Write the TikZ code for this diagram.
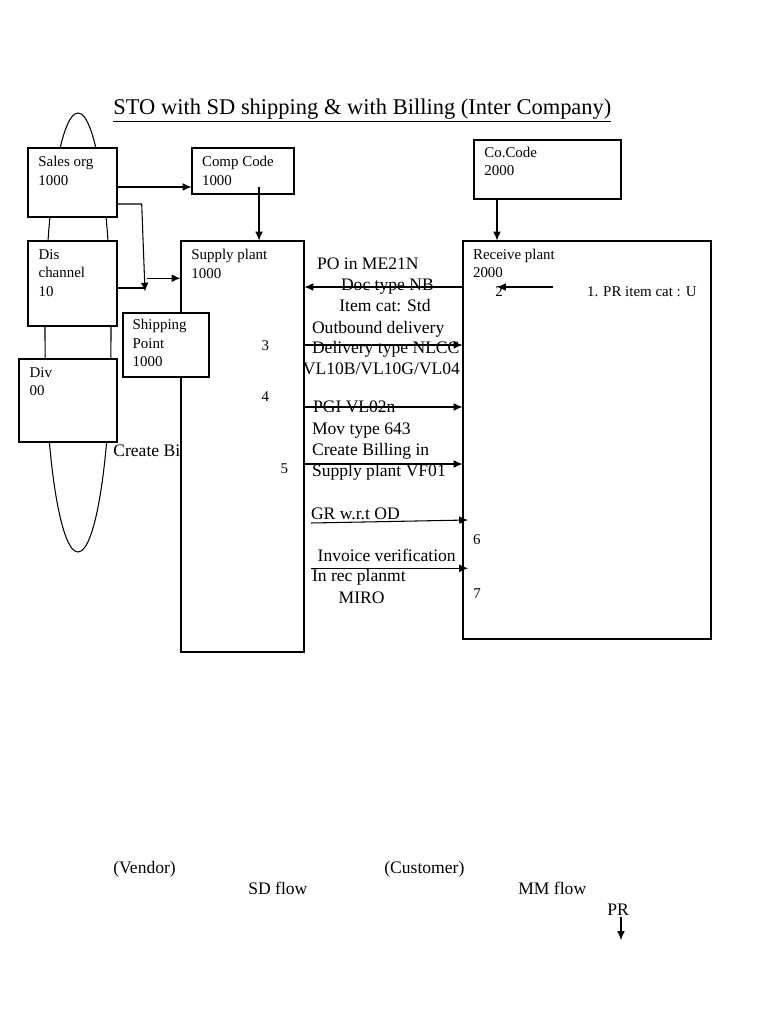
\documentclass[tikz,border=0pt]{standalone}
\usepackage{fontspec}
\setmainfont{Liberation Serif}
\usetikzlibrary{arrows.meta,fit}

\tikzset{
  box/.style={draw, fill=white, line width=0.6pt, inner sep=0pt},
  small/.style={font=\fontsize{8.5}{10.5}\selectfont, inner sep=0pt, anchor=base west, align=left},
  big/.style={font=\fontsize{10}{12}\selectfont, inner sep=0pt, anchor=base west},
  flow/.style={->, line width=0.6pt}
}

\begin{document}
\begin{tikzpicture}[x=0.02cm, y=-0.02cm, >={Latex[length=5pt,width=4.4pt]}]
  \useasboundingbox (0,0) rectangle (768,1024) ;

  \node[font=\fontsize{12.8}{15}\selectfont, inner sep=0pt, anchor=base west] (title) at (113,114) {\underline{STO with SD shipping \& with Billing (Inter Company)}} ;

  \draw[line width=0.6pt] (78,332.5) ellipse [x radius=33, y radius=219.5] ;
  \node[big] (createbi) at (113,456.5) {Create Bi} ;

  \node[box, fit={(28,148) (117,217)}] (salesorg) {} ;
  \node[box, fit={(28,241) (117,326)}] (dischannel) {} ;
  \node[box, fit={(19,359) (117,442)}] (div) {} ;
  \node[box, fit={(192,148) (294,194)}] (compcode) {} ;
  \node[box, fit={(181,241) (304,652)}] (supply) {} ;
  \node[box, fit={(123,313) (209,377)}] (shipping) {} ;
  \node[box, fit={(474,140) (621,199)}] (cocode) {} ;
  \node[box, fit={(463,241) (711,639)}] (recv) {} ;

  \node[small] (salesorgtxt) at (38,185) {Sales org\\1000} ;
  \node[small] (compcodetxt) at (201.7,185) {Comp Code\\1000} ;
  \node[small] (dischanneltxt) at (38.3,296) {Dis\\channel\\10} ;
  \node[small] (supplytxt) at (191,278.3) {Supply plant\\1000} ;
  \node[small] (shippingtxt) at (132.3,366.7) {Shipping\\Point\\1000} ;
  \node[small] (divtxt) at (29.3,395.7) {Div\\00} ;
  \node[small] (cocodetxt) at (484,175.7) {Co.Code\\2000} ;
  \node[small] (recvtxt) at (472.7,277.7) {Receive plant\\2000} ;

  \node[small] (two) at (495,296.7) {2} ;
  \node[small] (pritem) at (586.7,296.7) {1. PR item cat : U} ;
  \node[small] (three) at (261.3,350) {3} ;
  \node[small] (four) at (261.3,401.7) {4} ;
  \node[small] (five) at (280.3,473.3) {5} ;
  \node[small] (six) at (472.7,544.3) {6} ;
  \node[small] (seven) at (473,598.3) {7} ;

  \node[big] (po) at (316.7,269.3) {PO in ME21N} ;
  \node[big] (doctype) at (340.7,290.7) {Doc type NB} ;
  \node[big] (itemcat) at (339,311) {Item cat: Std} ;
  \node[big] (outbound) at (311.7,333.3) {Outbound delivery} ;
  \node[big] (deltype) at (311.7,353.3) {Delivery type NLCC} ;
  \node[big] (vl) at (302.5,374) {VL10B/VL10G/VL04} ;
  \node[big] (pgi) at (312.7,412.7) {PGI VL02n} ;
  \node[big] (movtype) at (311.7,434) {Mov type 643} ;
  \node[big] (billing) at (311.7,455) {Create Billing in} ;
  \node[big] (vf) at (311.7,476) {Supply plant VF01} ;
  \node[big] (gr) at (310.7,519) {GR w.r.t OD} ;
  \node[big] (invoice) at (317.3,561.7) {Invoice verification} ;
  \node[big] (inrec) at (311.7,581.7) {In rec planmt} ;
  \node[big] (miro) at (338.3,603.3) {MIRO} ;

  \node[big] (vendor) at (113,873) {(Vendor)} ;
  \node[big] (sdflow) at (248,894) {SD flow} ;
  \node[big] (customer) at (384,873) {(Customer)} ;
  \node[big] (mmflow) at (518,894) {MM flow} ;
  \node[big] (pr) at (607,915) {PR} ;

  \coordinate (salesbend) at (141.7,204) ;
  \coordinate (salesdown) at (145,291.5) ;
  \coordinate (dischend) at (144,288) ;
  \coordinate (supplyin) at (146.7,278.3) ;
  \coordinate (compstart) at (259,187) ;
  \coordinate (recvstart) at (553,287) ;
  \coordinate (recvend) at (497,287) ;
  \coordinate (grstart) at (311,523) ;
  \coordinate (grend) at (468,520) ;
  \coordinate (invstart) at (311,568.3) ;
  \coordinate (invend) at (468,568.3) ;

  \draw[flow] (salesorg.east |- 0,187) -- (compcode.west |- 0,187) ;
  \draw[flow] (salesorg.east |- 0,204) -- (salesbend) -- (salesdown) ;
  \draw[line width=0.6pt] (dischannel.east |- 0,288) -- (dischend) ;
  \draw[flow] (supplyin) -- (supply.west |- supplyin) ;
  \draw[flow] (compstart) -- (supply.north -| compstart) ;
  \draw[flow] (cocode.south -| recvend) -- (recv.north -| recvend) ;
  \draw[flow] (recvstart) -- (recvend) ;

  \draw[flow] (recv.west |- 0,287) -- (supply.east |- 0,287) ;
  \draw[flow] (supply.east |- 0,345) -- (recv.west |- 0,345) ;
  \draw[flow] (supply.east |- 0,407) -- (recv.west |- 0,407) ;
  \draw[flow] (supply.east |- 0,464) -- (recv.west |- 0,464) ;
  \draw[flow] (grstart) -- (grend) ;
  \draw[flow] (invstart) -- (invend) ;

  \draw[flow] (pr.south -| 621,0) ++(0,2) -- (621,940) ;
\end{tikzpicture}
\end{document}
